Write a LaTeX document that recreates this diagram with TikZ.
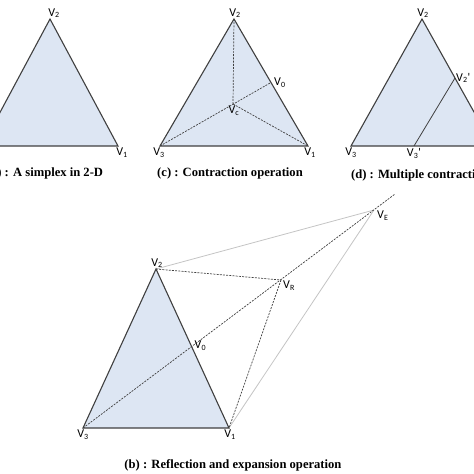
\documentclass[tikz,border=0pt]{standalone}
\usepackage{fontspec}
\setmainfont{Liberation Serif}
\newfontfamily\vfont{Carlito}
\definecolor{simplexfill}{HTML}{DDE6F3}
\definecolor{edgegray}{HTML}{404040}
\definecolor{raygray}{HTML}{C4C4C4}
\tikzset{
  simplex/.style={fill=simplexfill, draw=edgegray, line width=1.1pt, line join=miter},
  inner edge/.style={draw=edgegray, line width=0.8pt},
  guide/.style={draw=edgegray, dash pattern=on 2pt off 1.2pt, line width=0.7pt},
  ray/.style={draw=raygray, line width=0.8pt},
  vlabel/.style={font=\vfont\fontsize{12}{12}\selectfont, inner sep=1pt},
  caption/.style={font=\bfseries\fontsize{12.6}{14}\selectfont, inner sep=0pt},
}

\begin{document}
\begin{tikzpicture}[x=1pt, y=-1pt]
    \useasboundingbox (0,0) rectangle (474,474);
    \clip (0,0) rectangle (474,474);

    % (a) : the simplex itself
    \coordinate (a1) at (118,146);
    \coordinate (a2) at (50,19);
    \coordinate (a3) at (-18,146);
    \draw[simplex] (a1) -- (a2) -- (a3) -- cycle;
    \node[vlabel, anchor=south, xshift=4pt] at (a2) {V\textsubscript{2}};
    \node[vlabel, anchor=north, xshift=4pt, yshift=-1pt] at (a1) {V\textsubscript{1}};
    \node[caption] (capa) at (45,173) {(a) : A simplex in 2-D};

    % (c) : contraction
    \coordinate (c1) at (308,146);
    \coordinate (c2) at (234,19);
    \coordinate (c3) at (160,146);
    \coordinate (c0) at (271,82.5);
    \coordinate (cc) at (233,104);
    \draw[simplex] (c1) -- (c2) -- (c3) -- cycle;
    \draw[guide] (c2) -- (cc);
    \draw[guide] (c3) -- (c0);
    \draw[guide] (cc) -- (c1);
    \node[vlabel, anchor=south, xshift=1pt] at (c2) {V\textsubscript{2}};
    \node[vlabel, anchor=north, xshift=2pt, yshift=-1pt] at (c1) {V\textsubscript{1}};
    \node[vlabel, anchor=north, xshift=-1pt, yshift=-1pt] at (c3) {V\textsubscript{3}};
    \node[vlabel, anchor=west, xshift=2pt] at (c0) {V\textsubscript{0}};
    \node[vlabel, anchor=north, xshift=1pt, yshift=-1pt] at (cc) {V\textsubscript{c}};
    \node[caption] (capc) at (230,173) {(c) : Contraction operation};

    % (d) : multiple contraction
    \coordinate (d1) at (493,146);
    \coordinate (d2) at (422,19);
    \coordinate (d3) at (351,146);
    \coordinate (d2p) at (455,78);
    \coordinate (d3p) at (414,146);
    \draw[simplex] (d1) -- (d2) -- (d3) -- cycle;
    \draw[inner edge] (d3p) -- (d2p);
    \node[vlabel, anchor=south, xshift=1pt] at (d2) {V\textsubscript{2}};
    \node[vlabel, anchor=north, yshift=-1pt] at (d3) {V\textsubscript{3}};
    \node[vlabel, anchor=north, yshift=-1pt] at (d3p) {V\textsubscript{3}'};
    \node[vlabel, anchor=south west, xshift=0pt, yshift=-6pt] at (d2p) {V\textsubscript{2}'};
    \node[caption] (capd) at (420,175) {(d) : Multiple contraction};

    % (b) : reflection and expansion
    \coordinate (b1) at (229,428);
    \coordinate (b2) at (156,269);
    \coordinate (b3) at (83,428);
    \coordinate (b0) at (192.5,348.5);
    \coordinate (bR) at (281,280);
    \coordinate (bE) at (374,210);
    \coordinate (bX) at (395,194);
    \draw[ray] (b2) -- (bE);
    \draw[ray] (b1) -- (bE);
    \draw[simplex] (b1) -- (b2) -- (b3) -- cycle;
    \draw[guide] (b2) -- (bR);
    \draw[guide] (bR) -- (b1);
    \draw[guide] (b3) -- (bX);
    \node[vlabel, anchor=south, xshift=1pt] at (b2) {V\textsubscript{2}};
    \node[vlabel, anchor=north, xshift=1pt, yshift=-1pt] at (b1) {V\textsubscript{1}};
    \node[vlabel, anchor=north, yshift=-1pt] at (b3) {V\textsubscript{3}};
    \node[vlabel, anchor=west, xshift=1pt, yshift=3pt] at (b0) {V\textsubscript{0}};
    \node[vlabel, anchor=north west, xshift=1pt] at (bR) {V\textsubscript{R}};
    \node[vlabel, anchor=north west, xshift=2pt] at (bE) {V\textsubscript{E}};
    \node[caption] (capb) at (233,465) {(b) : Reflection and expansion operation};
\end{tikzpicture}
\end{document}
